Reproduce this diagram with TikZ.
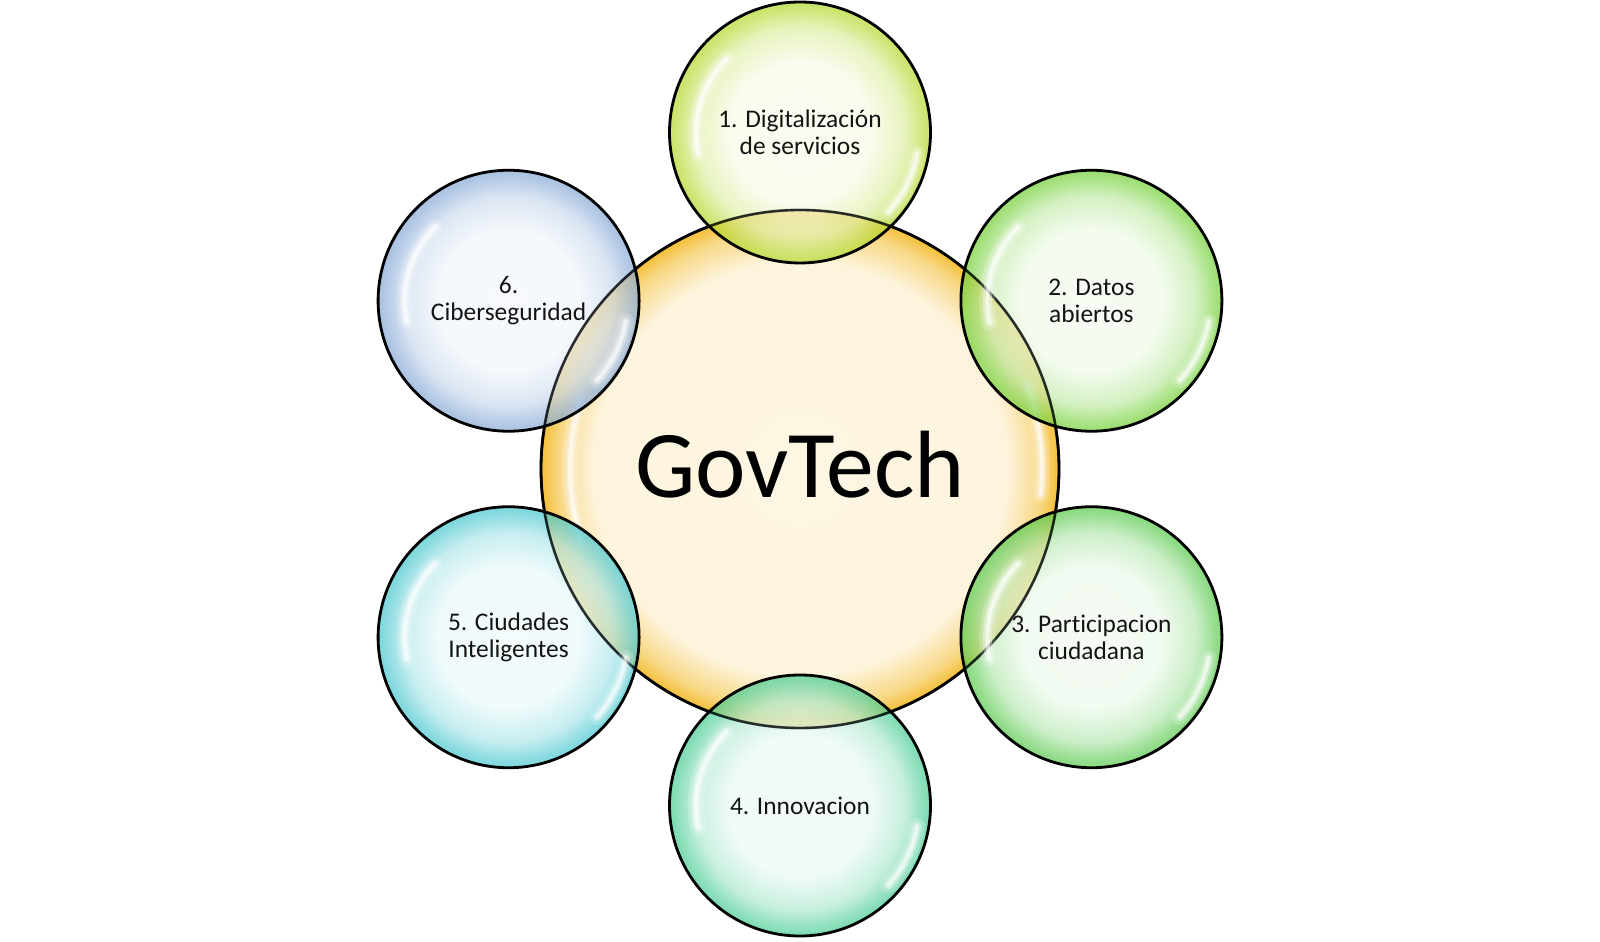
\documentclass[tikz,border=0pt]{standalone}
\usepackage{fontspec}
\setmainfont{Carlito}[Ligatures={NoCommon}]
\colorlet{bubcol}{green}
\colorlet{hubcol}{orange}
\pgfdeclareradialshading[bubcol]{bubble}{\pgfpoint{0bp}{0bp}}{color(0bp)=(bubcol!9!white); color(13.5bp)=(bubcol!11!white); color(20bp)=(bubcol!42!white); color(23.5bp)=(bubcol!85!white); color(25bp)=(bubcol); color(50bp)=(bubcol)}
\pgfdeclareradialshading[hubcol]{hubshade}{\pgfpoint{0bp}{0bp}}{color(0bp)=(hubcol!14!white); color(20bp)=(hubcol!17!white); color(23.3bp)=(hubcol!60!white); color(25bp)=(hubcol); color(50bp)=(hubcol)}
\definecolor{cHub}{HTML}{F4BF38}
\definecolor{cA}{HTML}{B2D82A}
\definecolor{cB}{HTML}{72D036}
\definecolor{cC}{HTML}{58C94C}
\definecolor{cD}{HTML}{48CC94}
\definecolor{cE}{HTML}{46C6CE}
\definecolor{cF}{HTML}{86A9D6}
\tikzset{
  bubcolor/.code={\colorlet{bubcol}{#1}},
  hubcolor/.code={\colorlet{hubcol}{#1}},
  bubble/.style={circle, draw=black, line width=2.8bp, minimum size=261bp, inner sep=0pt,
    bubcolor=#1, shading=bubble, fill opacity=0.72, text opacity=1, draw opacity=1,
    align=center, text=black!92, font=\fontsize{25.5}{27.5}\selectfont},
  hub/.style={circle, draw=black, line width=2.8bp, minimum size=518bp, inner sep=0pt,
    hubcolor=cHub, shading=hubshade},
  hubline/.style={draw=black, line width=2.4bp, opacity=0.75},
  hlsoft/.style={draw=white, line cap=round, line width=16bp, opacity=0.18},
  hlmid/.style={draw=white, line cap=round, line width=9bp, opacity=0.35},
  hlcore/.style={draw=white, line cap=round, line width=4bp, opacity=0.6},
}
\begin{document}
\begin{tikzpicture}[x=1bp,y=1bp]
\useasboundingbox (0,0) rectangle (1600,941);
\node[hub] (hub) at (800,472) {};
\foreach \r/\a/\b in {230/162/198, 242/-6/20}{
  \draw[hlsoft] ([shift={(\a:\r)}]hub.center) arc[start angle=\a, end angle=\b, radius=\r];
  \draw[hlmid] ([shift={(\a:\r)}]hub.center) arc[start angle=\a, end angle=\b, radius=\r];
  \draw[hlcore] ([shift={(\a:\r)}]hub.center) arc[start angle=\a, end angle=\b, radius=\r];
}
\node[text=black, anchor=base, font=\fontsize{96}{100}\selectfont] (title) at (800,443) {GovTech};
\node[bubble=cA] (c1) at (800,808.5) {1. Digitalización\\de servicios};
\node[bubble=cB] (c2) at (1091.4,640.25) {2. Datos\\abiertos};
\node[bubble=cC] (c3) at (1091.4,303.75) {3. Participacion\\ciudadana};
\node[bubble=cD] (c4) at (800,135.5) {4. Innovacion};
\node[bubble=cE] (c5) at (508.6,303.75) {5. Ciudades\\Inteligentes};
\node[bubble=cF] (c6) at (508.6,640.25) {6.\\Ciberseguridad};
\draw[hubline] (hub.center) circle[radius=259];
\foreach \n in {c1,c2,c3,c4,c5,c6}{
  \foreach \r/\a/\b in {104/135/192, 119/-10/-42}{
    \draw[hlsoft] ([shift={(\a:\r)}]\n.center) arc[start angle=\a, end angle=\b, radius=\r];
    \draw[hlmid] ([shift={(\a:\r)}]\n.center) arc[start angle=\a, end angle=\b, radius=\r];
    \draw[hlcore] ([shift={(\a:\r)}]\n.center) arc[start angle=\a, end angle=\b, radius=\r];
  }
}
\end{tikzpicture}
\end{document}
